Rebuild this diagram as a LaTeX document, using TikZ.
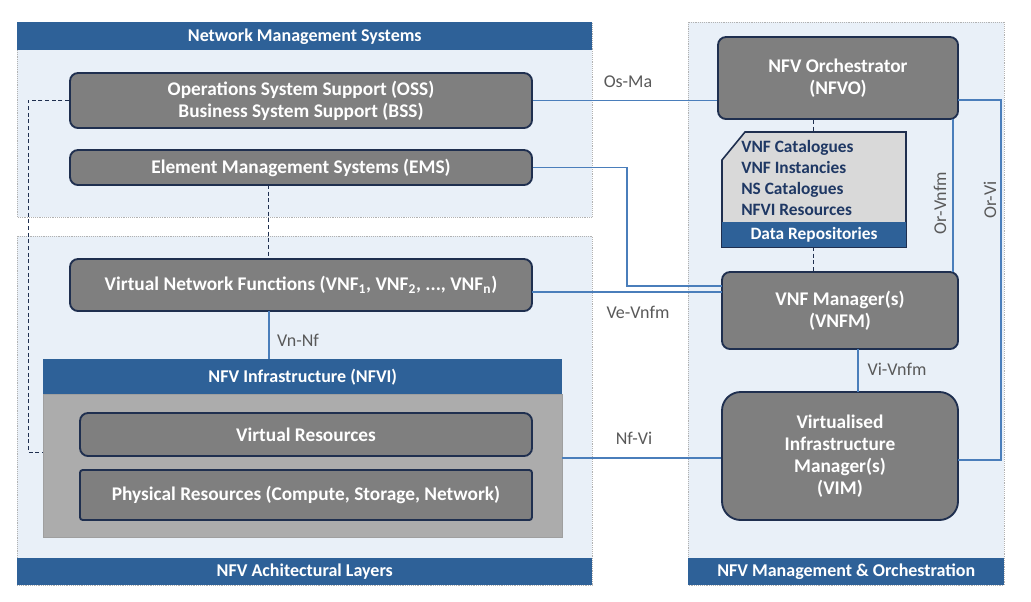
\documentclass[tikz,border=0pt]{standalone}
\usepackage{fontspec}
\setmainfont{Carlito}
\begin{document}
\begin{tikzpicture}[x=0.75pt,y=-0.75pt,
  panel/.style={fill=panelbg,draw=gray!60,densely dotted},
  bar/.style={fill=barblue,text=white,font=\bfseries\fontsize{13.5}{16}\selectfont},
  gbox/.style={fill=boxgray,draw=navy,line width=1.4pt,rounded corners=6pt,text=white,font=\bfseries\fontsize{14.5}{16.5}\selectfont,align=center},
  link/.style={draw=linkblue,line width=1.3pt},
  dlink/.style={draw=navy,densely dashed,line width=0.7pt},
  lbl/.style={text=labgray,font=\fontsize{13.5}{15}\selectfont}]
\definecolor{panelbg}{HTML}{E9F0F8}
\definecolor{barblue}{HTML}{2E6198}
\definecolor{boxgray}{HTML}{7F7F7F}
\definecolor{navy}{HTML}{1F2F4F}
\definecolor{linkblue}{HTML}{4A7EBB}
\definecolor{labgray}{HTML}{595959}
\definecolor{repotext}{HTML}{1F3864}
\useasboundingbox (0,0) rectangle (1031,601);
\fill[white] (0,0) rectangle (1031,601);
% panels
\draw[panel] (17,22) rectangle (592,217);
\node[bar,minimum width=575*0.75pt,minimum height=28*0.75pt,anchor=north west,inner sep=0] (nms) at (17,22) {Network Management Systems};
\draw[panel] (17,236) rectangle (592,585);
\node[bar,minimum width=575*0.75pt,minimum height=27*0.75pt,anchor=north west,inner sep=0] (layers) at (17,558) {NFV Achitectural Layers};
\draw[panel] (688,22) rectangle (1004,585);
\node[bar,minimum width=316*0.75pt,minimum height=27*0.75pt,anchor=north west,inner sep=0] (mano) at (688,558) {NFV Management \& Orchestration};
% NFVI
\fill[gray!65] (43,394) rectangle (562,537);
\draw[gray!75] (43,394) rectangle (562,537);
\node[bar,minimum width=519*0.75pt,minimum height=35*0.75pt,anchor=north west,inner sep=0] (nfvi) at (43,359) {NFV Infrastructure (NFVI)};
\coordinate (nfvir) at (562,458);
\coordinate (nfvil) at (43,452);
% boxes
\node[gbox,minimum width=462*0.75pt,minimum height=55*0.75pt] (oss) at (301,100.5) {Operations System Support (OSS)\\Business System Support (BSS)};
\node[gbox,minimum width=462*0.75pt,minimum height=35*0.75pt] (ems) at (301,167.5) {Element Management Systems (EMS)};
\node[gbox,minimum width=462*0.75pt,minimum height=52*0.75pt] (vnf) at (301,285) {Virtual Network Functions (VNF\textsubscript{1}, VNF\textsubscript{2}, ..., VNF\textsubscript{n})};
\node[gbox,minimum width=452*0.75pt,minimum height=43*0.75pt] (vr) at (306,434.5) {Virtual Resources};
\node[gbox,minimum width=452*0.75pt,minimum height=50*0.75pt,rounded corners=2pt] (pr) at (306,495) {Physical Resources (Compute, Storage, Network)};
\node[gbox,minimum width=240*0.75pt,minimum height=82*0.75pt] (nfvo) at (838,78) {NFV Orchestrator\\(NFVO)};
\node[gbox,minimum width=236*0.75pt,minimum height=77*0.75pt] (vnfm) at (840,310.5) {VNF Manager(s)\\(VNFM)};
\node[gbox,minimum width=236*0.75pt,minimum height=128*0.75pt,rounded corners=14pt] (vim) at (840,456) {Virtualised\\Infrastructure\\Manager(s)\\(VIM)};
% data repositories
\fill[gray!30,draw=navy,line width=1.2pt] (722,160) -- (745,132) -- (906,132) -- (906,247) -- (722,247) -- cycle;
\node[fill=barblue,text=white,font=\bfseries\fontsize{13}{15}\selectfont,minimum width=184*0.75pt,minimum height=25*0.75pt,inner sep=0] (repoh) at (814,234.5) {Data Repositories};
\node[text=repotext,font=\bfseries\fontsize{13}{15.8}\selectfont,align=left,anchor=north west,inner sep=0] (repo) at (741,140) {VNF Catalogues\\VNF Instancies\\NS Catalogues\\NFVI Resources};
\coordinate (repot) at (813,132);
\coordinate (repob) at (813,247);
% dashed links
\draw[dlink] (oss.west) -- (28,100.5) -- (28,452) -- (nfvil);
\draw[dlink] (268,185) -- (268,259);
\draw[dlink] (nfvo.south -| repot) -- (repot);
\draw[dlink] (repob) -- (813,272);
% solid links
\draw[link] (oss.east) -- (nfvo.west |- oss.east);
\draw[link] (ems.east) -- (627,167.5) -- (627,286) -- (722,286);
\draw[link] (532,292) -- (722,292);
\draw[link] (269,311) -- (269,359);
\draw[link] (953,119) -- (953,272);
\draw[link] (958,100) -- (1001,100) -- (1001,460) -- (958,460);
\draw[link] (858,349) -- (858,392);
\draw[link] (nfvir) -- (vim.west |- nfvir);
% labels
\node[lbl] (l1) at (628,82) {Os-Ma};
\node[lbl] (l2) at (638,312) {Ve-Vnfm};
\node[lbl] (l3) at (298,340) {Vn-Nf};
\node[lbl] (l4) at (634,438) {Nf-Vi};
\node[lbl] (l5) at (897,369) {Vi-Vnfm};
\node[lbl,rotate=90] (l6) at (940,203) {Or-Vnfm};
\node[lbl,rotate=90] (l7) at (990,200) {Or-Vi};
\end{tikzpicture}
\end{document}
